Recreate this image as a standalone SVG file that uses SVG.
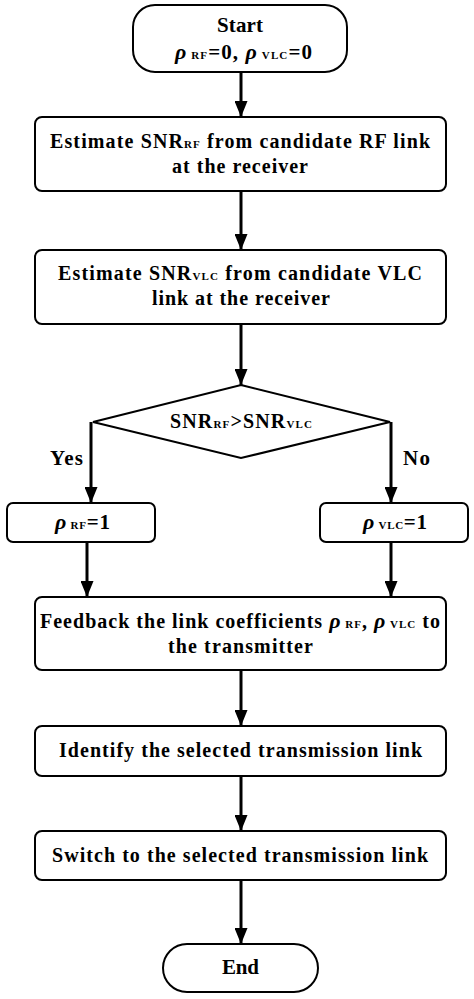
<svg xmlns="http://www.w3.org/2000/svg" width="474" height="999" viewBox="0 0 474 999">
<style>
.box{fill:#fff;stroke:#000;stroke-width:2}
.t{font-family:"Liberation Serif","Times New Roman",serif;font-weight:bold;font-size:20px;fill:#000}
.s{font-size:11px}
.r{font-style:italic;font-size:22px}
.c{stroke:#000;stroke-width:3;fill:none}
</style>
<defs>
<marker id="ah" markerUnits="userSpaceOnUse" markerWidth="16" markerHeight="13" refX="16" refY="6.5" orient="auto">
<path d="M0,0 L16,6.5 L0,13 z" fill="#000"/>
</marker>
</defs>
<rect width="474" height="999" fill="#fff"/>
<g id="connectors">
<line class="c" x1="241" y1="72" x2="241" y2="117" marker-end="url(#ah)"/>
<line class="c" x1="241" y1="191" x2="241" y2="250" marker-end="url(#ah)"/>
<line class="c" x1="241" y1="324" x2="241" y2="385" marker-end="url(#ah)"/>
<line class="c" x1="91" y1="422" x2="91" y2="503" marker-end="url(#ah)"/>
<line class="c" x1="391" y1="422" x2="391" y2="503" marker-end="url(#ah)"/>
<line class="c" x1="87" y1="542" x2="87" y2="597" marker-end="url(#ah)"/>
<line class="c" x1="391" y1="542" x2="391" y2="597" marker-end="url(#ah)"/>
<line class="c" x1="241" y1="670" x2="241" y2="726" marker-end="url(#ah)"/>
<line class="c" x1="241" y1="776" x2="241" y2="831" marker-end="url(#ah)"/>
<line class="c" x1="241" y1="880" x2="241" y2="944" marker-end="url(#ah)"/>
<text class="t" x="50" y="465" textLength="33" style="font-size:21px">Yes</text>
<text class="t" x="403" y="465" textLength="27" style="font-size:21px">No</text>
</g>
<g id="start">
<rect class="box" x="133" y="5" width="214" height="67" rx="22"/>
<text class="t" x="217" y="32" textLength="46" style="font-size:21px">Start</text>
<text class="t" x="175" y="59" textLength="137" style="font-size:21px"><tspan class="r">ρ</tspan><tspan class="s"> RF</tspan>=0,  <tspan class="r">ρ</tspan><tspan class="s"> VLC</tspan>=0</text>
</g>
<g id="estRF">
<rect class="box" x="35" y="117" width="411" height="74" rx="7"/>
<text class="t" x="50" y="148" textLength="380">Estimate SNR<tspan class="s">RF</tspan> from candidate RF link</text>
<text class="t" x="172" y="173" textLength="136">at the receiver</text>
</g>
<g id="estVLC">
<rect class="box" x="35" y="250" width="411" height="74" rx="7"/>
<text class="t" x="58" y="280" textLength="364">Estimate SNR<tspan class="s">VLC</tspan> from candidate VLC</text>
<text class="t" x="152" y="305" textLength="178">link at the receiver</text>
</g>
<g id="decision">
<polygon class="box" points="241,385 390,422 241,458 93,422"/>
<text class="t" x="170" y="428" textLength="142">SNR<tspan class="s">RF</tspan>&gt;SNR<tspan class="s">VLC</tspan></text>
</g>
<g id="rhoRF">
<rect class="box" x="7" y="503" width="148" height="39" rx="6"/>
<text class="t" x="55" y="529" textLength="55" style="font-size:21px"><tspan class="r">ρ</tspan><tspan class="s"> RF</tspan>=1</text>
</g>
<g id="rhoVLC">
<rect class="box" x="320" y="503" width="148" height="39" rx="6"/>
<text class="t" x="363" y="529" textLength="64" style="font-size:21px"><tspan class="r">ρ</tspan><tspan class="s"> VLC</tspan>=1</text>
</g>
<g id="feedback">
<rect class="box" x="35" y="597" width="411" height="73" rx="7"/>
<text class="t" x="40" y="628" textLength="400">Feedback the link coefficients  <tspan class="r">ρ</tspan><tspan class="s"> RF</tspan>, <tspan class="r">ρ</tspan><tspan class="s"> VLC</tspan> to</text>
<text class="t" x="168" y="653" textLength="145">the transmitter</text>
</g>
<g id="identify">
<rect class="box" x="35" y="726" width="411" height="50" rx="7"/>
<text class="t" x="59" y="757" textLength="363">Identify the selected transmission link</text>
</g>
<g id="switch">
<rect class="box" x="35" y="831" width="411" height="49" rx="7"/>
<text class="t" x="52" y="862" textLength="376">Switch to the selected transmission link</text>
</g>
<g id="end">
<rect class="box" x="163" y="944" width="155" height="48" rx="24"/>
<text class="t" x="222" y="974" textLength="37" style="font-size:21px">End</text>
</g>
</svg>
